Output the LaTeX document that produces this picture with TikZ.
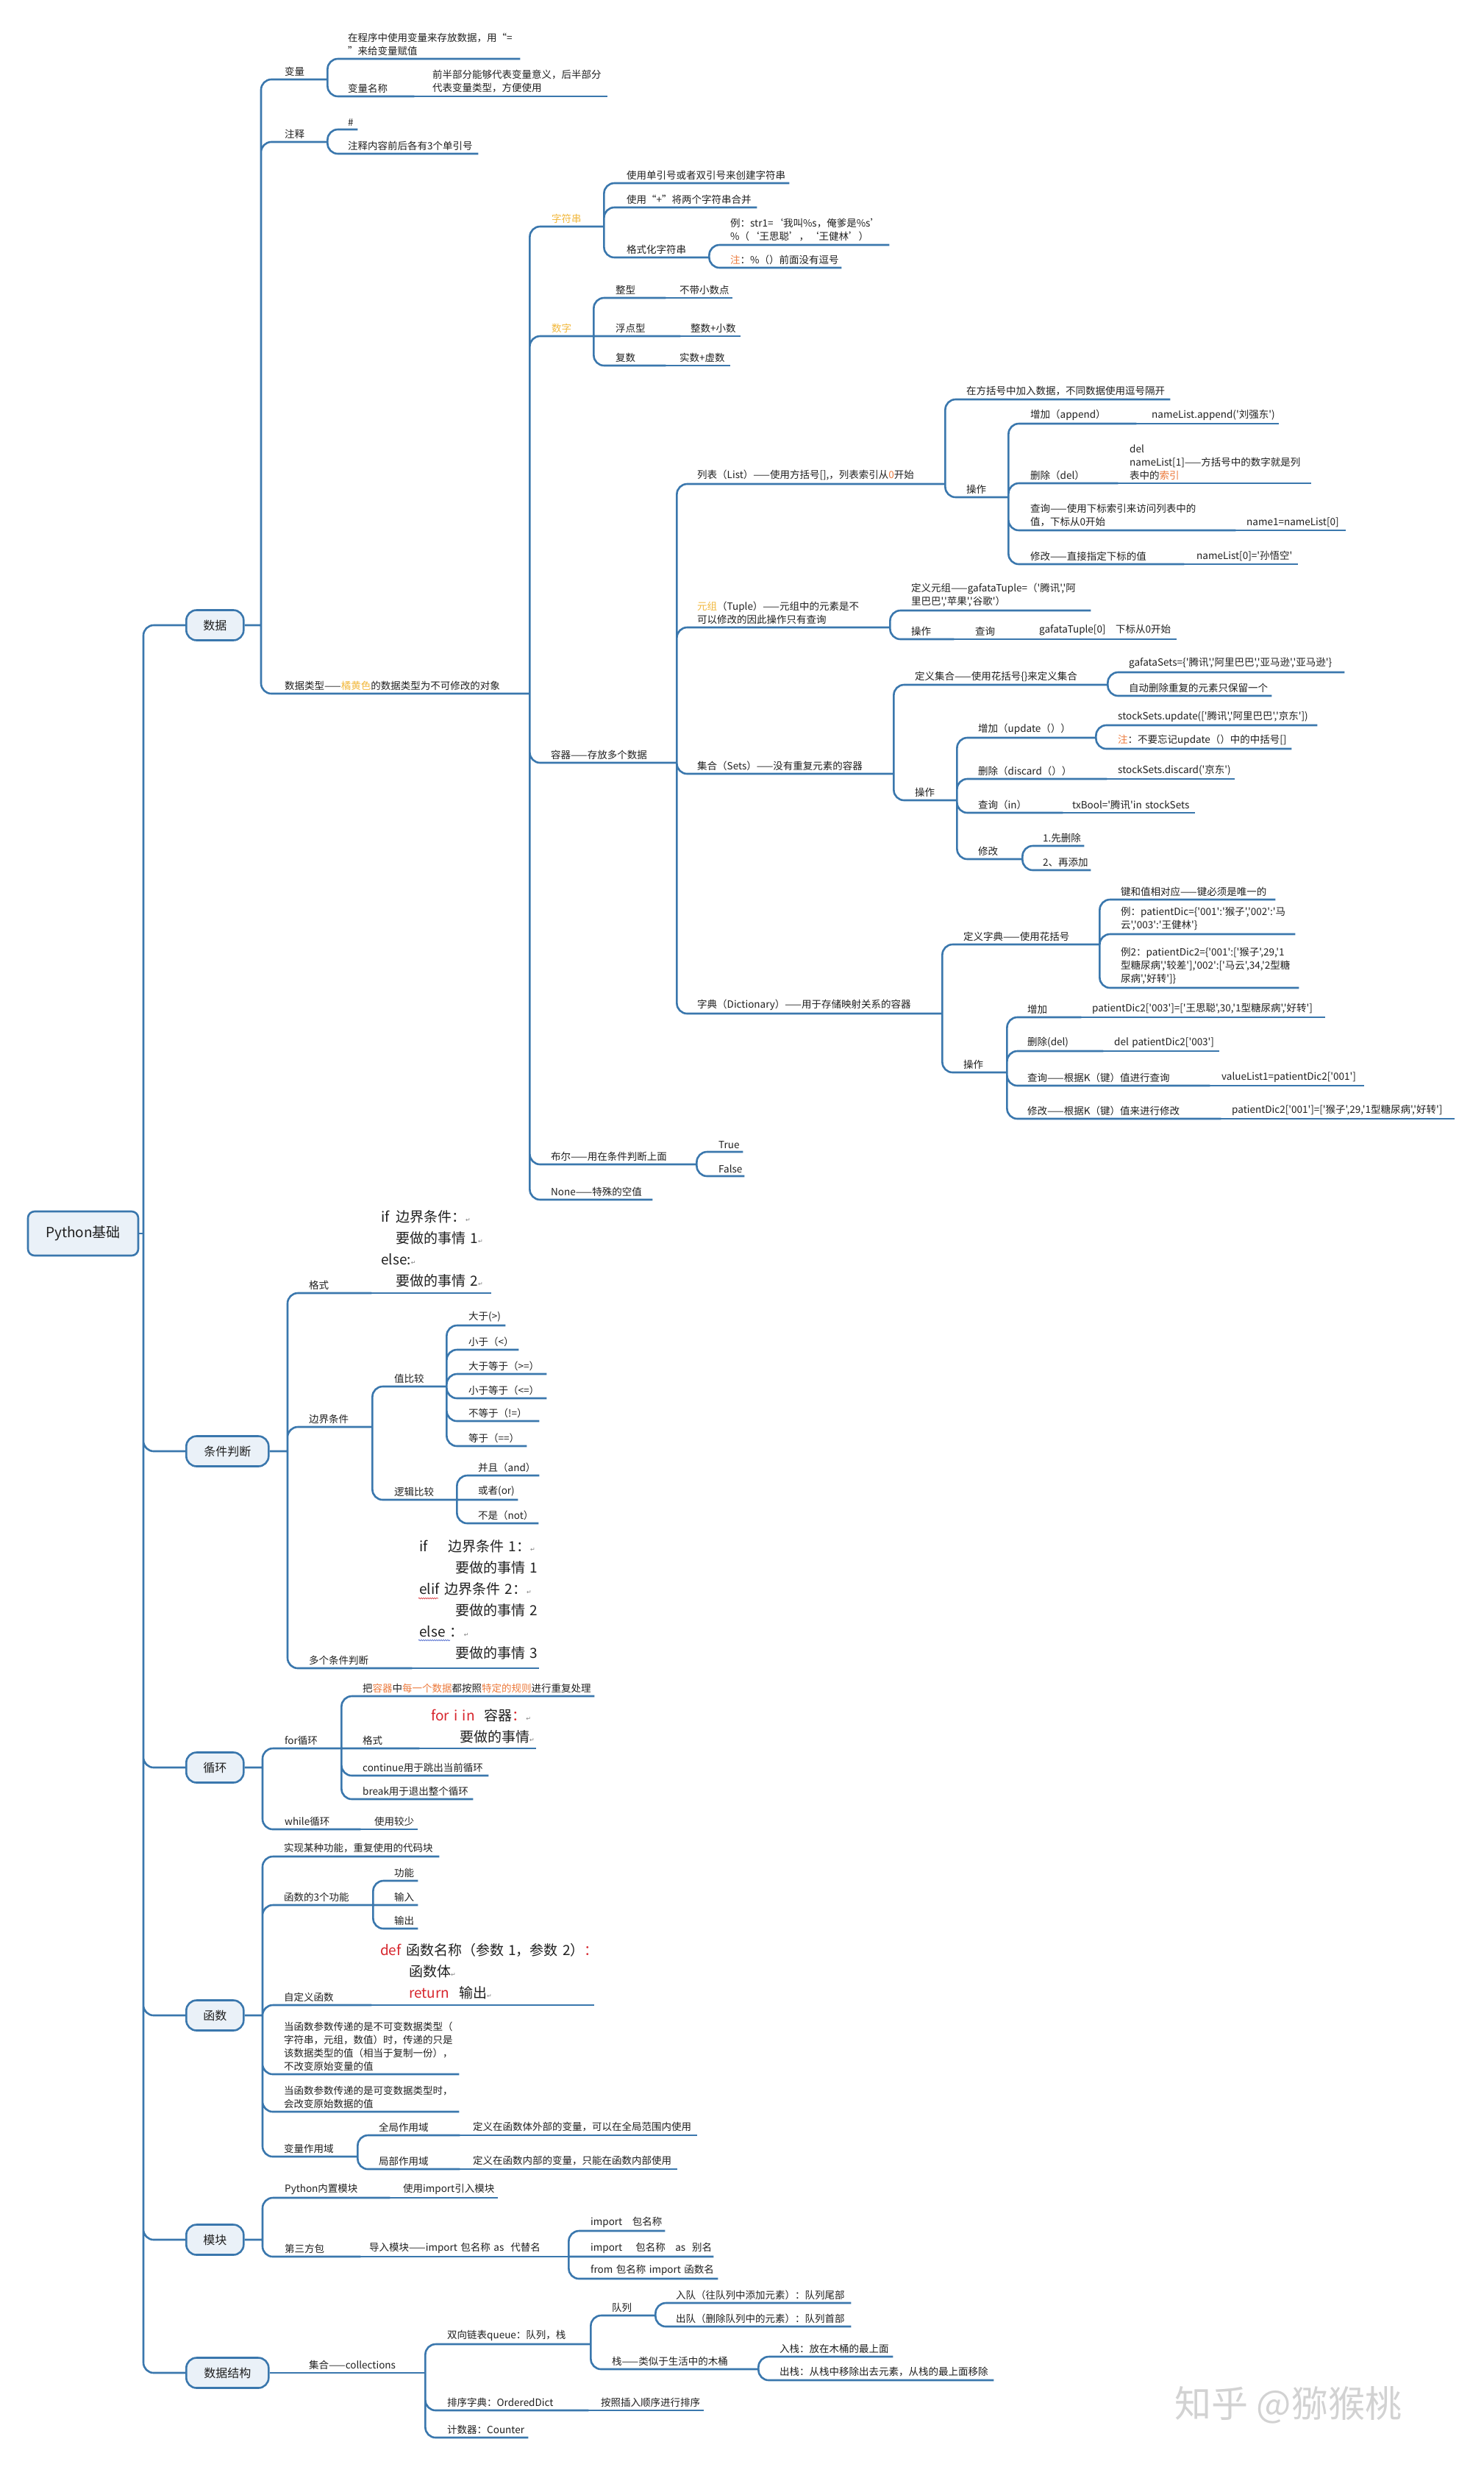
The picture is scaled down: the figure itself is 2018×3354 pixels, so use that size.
\documentclass[tikz,border=0pt]{standalone}
\usepackage{fontspec}
\newfontfamily\cjk{Noto Sans CJK SC}
\newfontfamily\dvfont{DejaVu Sans}
\usetikzlibrary{decorations.pathmorphing}

\definecolor{linecol}{HTML}{3A77AD}
\definecolor{boxfill}{HTML}{EAF1F8}
\definecolor{gold}{HTML}{F2B83C}
\definecolor{orng}{HTML}{EC7A3C}
\definecolor{codered}{HTML}{D7262D}
\definecolor{wavyblue}{HTML}{3C5AC8}
\definecolor{txt}{HTML}{202020}

\newcommand{\topicfont}{\cjk\fontsize{13.5}{18}\selectfont\hyphenpenalty=10000\exhyphenpenalty=10000\relax}
\newcommand{\codefont}{\cjk\fontsize{19}{29}\selectfont}
\newcommand{\catfont}{\cjk\fontsize{16}{20}\selectfont}
\newcommand{\retmark}{{\dvfont\fontsize{8}{8}\selectfont\color{gray}↵}}

\tikzstyle{branch} = [linecol, line width=2.6pt, rounded corners=14pt]
\tikzstyle{topic} = [anchor=south west, inner xsep=0pt, inner ysep=4.5pt, align=left, font=\topicfont, text=txt]
\tikzstyle{codetext} = [anchor=south west, inner xsep=0pt, inner ysep=7.5pt, align=left, font=\codefont, text=txt]
\tikzstyle{catbox} = [draw=linecol, line width=2.6pt, fill=boxfill, rounded corners=14pt, anchor=west, minimum height=41pt, font=\catfont, text=txt]
\tikzstyle{rootbox} = [draw=linecol, line width=2.6pt, fill=boxfill, rounded corners=9pt, minimum width=150pt, minimum height=60pt, font={\cjk\fontsize{19}{22}\selectfont}, text=txt]

\begin{document}
\begin{tikzpicture}[x=1pt, y=-1pt]

\fill [white] (0,0) rectangle (2018,3354);
\useasboundingbox (0,0) rectangle (2018,3354);

% Root and main branches
\node [rootbox] (root) at (113,1677) {Python基础};
\coordinate (hub) at (195,1677);
\node [catbox, minimum width=78pt] (data) at (252,850) {数据};
\node [catbox, minimum width=112pt] (cond) at (252,1973) {条件判断};
\node [catbox, minimum width=78pt] (loop) at (252,2403) {循环};
\node [catbox, minimum width=78pt] (func) at (252,2740) {函数};
\node [catbox, minimum width=78pt] (modu) at (252,3045) {模块};
\node [catbox, minimum width=112pt] (dstr) at (252,3226) {数据结构};
\draw [branch] (root.east) -- (hub);
\draw [branch] (hub) |- (data.west) (hub) |- (cond.west) (hub) |- (loop.west)
  (hub) |- (func.west) (hub) |- (modu.west) (hub) |- (dstr.west);

% Data: variables, comments
\coordinate (dataT) at (355,850);
\node [topic, text width=58pt] (var) at (387,108) {变量};
\node [topic, text width=234pt] (var1) at (473,80) {在程序中使用变量来存放数据，用“=\\”来给变量赋值};
\node [topic, text width=90pt] (vname) at (473,131) {变量名称};
\node [topic, text width=238pt] (vname1) at (588,131) {前半部分能够代表变量意义，后半部分\\代表变量类型，方便使用};
\node [topic, text width=58pt] (note) at (387,193) {注释};
\node [topic, text width=13pt] (note1) at (473,176) {\#};
\node [topic, text width=177pt] (note2) at (473,209) {注释内容前后各有3个单引号};
\node [topic, text width=333pt] (dtype) at (387,943) {数据类型——\textcolor{gold}{橘黄色}的数据类型为不可修改的对象};
\draw [branch] (data.east) -- (dataT) (dataT) |- (var.south east) (dataT) |- (note.south east) (dataT) |- (dtype.south east);
\draw [branch] (var.south east) |- (var1.south east) (var.south east) |- (vname.south east);
\draw [branch] (vname.south east) -- (vname1.south east);
\draw [branch] (note.south east) |- (note1.south east) (note.south east) |- (note2.south east);

% Data: strings, numbers
\node [topic, text width=71pt] (str) at (750,308) {\textcolor{gold}{字符串}};
\node [topic, text width=221pt] (str1) at (852,249) {使用单引号或者双引号来创建字符串};
\node [topic, text width=177pt] (str2) at (852,282) {使用“+”将两个字符串合并};
\node [topic, text width=112pt] (str3) at (852,350) {格式化字符串};
\node [topic, text width=216pt] (str31) at (993,333) {例：str1=‘我叫\%s，俺爹是\%s’\\\%（‘王思聪’，‘王健林’）};
\node [topic, text width=151pt] (str32) at (993,364) {\textcolor{orng}{注}：\%（）前面没有逗号};
\node [topic, text width=57pt] (num) at (750,457) {\textcolor{gold}{数字}};
\node [topic, text width=68pt] (int) at (837,405) {整型};
\node [topic, text width=72pt] (int1) at (924,405) {不带小数点};
\node [topic, text width=88pt] (flt) at (837,457) {浮点型};
\node [topic, text width=68pt] (flt1) at (939,457) {整数+小数};
\node [topic, text width=68pt] (cpx) at (837,497) {复数};
\node [topic, text width=69pt] (cpx1) at (924,497) {实数+虚数};
\node [topic, text width=171pt] (cont) at (749,1037) {容器——存放多个数据};
\node [topic, text width=198pt] (bool) at (749,1583) {布尔——用在条件判断上面};
\node [topic, text width=33pt] (btrue) at (977,1566) {True};
\node [topic, text width=35pt] (bfalse) at (977,1599) {False};
\node [topic, text width=138pt] (none) at (749,1631) {None——特殊的空值};
\draw [branch] (dtype.south east) |- (str.south east) (dtype.south east) |- (num.south east) (dtype.south east) |- (cont.south east)
  (dtype.south east) |- (bool.south east) (dtype.south east) |- (none.south east);
\draw [branch] (str.south east) |- (str1.south east) (str.south east) |- (str2.south east) (str.south east) |- (str3.south east);
\draw [branch] (str3.south east) |- (str31.south east) (str3.south east) |- (str32.south east);
\draw [branch] (num.south east) |- (int.south east) (num.south east) -- (flt.south east) (num.south east) |- (cpx.south east);
\draw [branch] (int.south east) -- (int1.south east) (flt.south east) -- (flt1.south east) (cpx.south east) -- (cpx1.south east);
\draw [branch] (bool.south east) |- (btrue.south east) (bool.south east) |- (bfalse.south east);

% Container: list
\node [topic, text width=337pt] (list) at (948,658) {列表（List）——使用方括号[],，列表索引从\textcolor{orng}{0}开始};
\node [topic, text width=277pt] (list1) at (1314,543) {在方括号中加入数据，不同数据使用逗号隔开};
\node [topic, text width=57pt] (lop) at (1314,676) {操作};
\node [topic, text width=144pt] (ladd) at (1401,576) {增加（append）};
\node [topic, text width=173pt] (ladd1) at (1566,576) {nameList.append('刘强东')};
\node [topic, text width=119pt] (ldel) at (1401,657) {删除（del）};
\node [topic, text width=247pt] (ldel1) at (1536,657) {del\\nameList[1]——方括号中的数字就是列\\表中的\textcolor{orng}{索引}};
\node [topic, text width=279pt] (lget) at (1401,721) {查询——使用下标索引来访问列表中的\\值，下标从0开始};
\node [topic, text width=135pt] (lget1) at (1695,721) {name1=nameList[0]};
\node [topic, text width=209pt] (lset) at (1401,767) {修改——直接指定下标的值};
\node [topic, text width=138pt] (lset1) at (1627,767) {nameList[0]='孙悟空'};
\draw [branch] (list.south east) |- (list1.south east) (list.south east) |- (lop.south east);
\draw [branch] (lop.south east) |- (ladd.south east) (lop.south east) |- (ldel.south east) (lop.south east) |- (lget.south east) (lop.south east) |- (lset.south east);
\draw [branch] (ladd.south east) -- (ladd1.south east) (ldel.south east) -- (ldel1.south east) (lget.south east) -- (lget1.south east) (lset.south east) -- (lset1.south east);

% Container: tuple
\node [topic, text width=262pt] (tup) at (948,853) {\textcolor{gold}{元组}（Tuple）——元组中的元素是不\\可以修改的因此操作只有查询};
\node [topic, text width=244pt] (tup1) at (1239,830) {定义元组——gafataTuple=（'腾讯','阿\\里巴巴','苹果','谷歌'）};
\node [topic, text width=58pt] (tupop) at (1239,869) {操作};
\node [topic, text width=74pt] (tupget) at (1326,869) {查询};
\node [topic, text width=187pt] (tupget1) at (1413,869) {gafataTuple[0]~~~下标从0开始};
\draw [branch] (tup.south east) |- (tup1.south east) (tup.south east) |- (tupop.south east);
\draw [branch] (tupop.south east) -- (tupget.south east) (tupget.south east) -- (tupget1.south east);

% Container: set
\node [topic, text width=267pt] (set) at (948,1052) {集合（Sets）——没有重复元素的容器};
\node [topic, text width=262pt] (setdef) at (1244,931) {定义集合——使用花括号\{\}来定义集合};
\node [topic, text width=293pt] (setdef1) at (1535,914) {gafataSets=\{'腾讯','阿里巴巴','亚马逊','亚马逊'\}};
\node [topic, text width=194pt] (setdef2) at (1535,946) {自动删除重复的元素只保留一个};
\node [topic, text width=57pt] (setop) at (1244,1088) {操作};
\node [topic, text width=160pt] (setadd) at (1330,1003) {增加（update（））};
\node [topic, text width=271pt] (setadd1) at (1520,986) {stockSets.update(['腾讯','阿里巴巴','京东'])};
\node [topic, text width=236pt] (setadd2) at (1520,1018) {\textcolor{orng}{注}：不要忘记update（）中的中括号[]};
\node [topic, text width=175pt] (setdel) at (1330,1059) {删除（discard（））};
\node [topic, text width=159pt] (setdel1) at (1520,1059) {stockSets.discard('京东')};
\node [topic, text width=115pt] (setget) at (1330,1105) {查询（in）};
\node [topic, text width=167pt] (setget1) at (1458,1105) {txBool='腾讯'in~stockSets};
\node [topic, text width=60pt] (setmod) at (1330,1168) {修改};
\node [topic, text width=56pt] (setmod1) at (1418,1150) {1.先删除};
\node [topic, text width=65pt] (setmod2) at (1418,1183) {2、再添加};
\draw [branch] (set.south east) |- (setdef.south east) (set.south east) |- (setop.south east);
\draw [branch] (setdef.south east) |- (setdef1.south east) (setdef.south east) |- (setdef2.south east);
\draw [branch] (setop.south east) |- (setadd.south east) (setop.south east) |- (setdel.south east) (setop.south east) |- (setget.south east) (setop.south east) |- (setmod.south east);
\draw [branch] (setadd.south east) |- (setadd1.south east) (setadd.south east) |- (setadd2.south east);
\draw [branch] (setdel.south east) -- (setdel1.south east) (setget.south east) -- (setget1.south east);
\draw [branch] (setmod.south east) |- (setmod1.south east) (setmod.south east) |- (setmod2.south east);

% Container: dictionary
\node [topic, text width=333pt] (dict) at (948,1378) {字典（Dictionary）——用于存储映射关系的容器};
\node [topic, text width=185pt] (ddef) at (1310,1284) {定义字典——使用花括号};
\node [topic, text width=210pt] (ddef1) at (1524,1223) {键和值相对应——键必须是唯一的};
\node [topic, text width=237pt] (ddef2) at (1524,1270) {例：patientDic=\{'001':'猴子','002':'马\\云','003':'王健林'\}};
\node [topic, text width=242pt] (ddef3) at (1524,1343) {例2：patientDic2=\{'001':['猴子',29,'1\\型糖尿病','较差'],'002':['马云',34,'2型糖\\尿病','好转']\}};
\node [topic, text width=59pt] (dop) at (1310,1458) {操作};
\node [topic, text width=73pt] (dadd) at (1397,1383) {增加};
\node [topic, text width=317pt] (dadd1) at (1485,1383) {patientDic2['003']=['王思聪',30,'1型糖尿病','好转']};
\node [topic, text width=103pt] (ddel) at (1397,1429) {删除(del)};
\node [topic, text width=143pt] (ddel1) at (1515,1429) {del~patientDic2['003']};
\node [topic, text width=248pt] (dget) at (1397,1476) {查询——根据K（键）值进行查询};
\node [topic, text width=194pt] (dget1) at (1661,1476) {valueList1=patientDic2['001']};
\node [topic, text width=263pt] (dset) at (1397,1521) {修改——根据K（键）值来进行修改};
\node [topic, text width=303pt] (dset1) at (1675,1521) {patientDic2['001']=['猴子',29,'1型糖尿病','好转']};
\draw [branch] (dict.south east) |- (ddef.south east) (dict.south east) |- (dop.south east);
\draw [branch] (ddef.south east) |- (ddef1.south east) (ddef.south east) |- (ddef2.south east) (ddef.south east) |- (ddef3.south east);
\draw [branch] (dop.south east) |- (dadd.south east) (dop.south east) |- (ddel.south east) (dop.south east) |- (dget.south east) (dop.south east) |- (dset.south east);
\draw [branch] (dadd.south east) -- (dadd1.south east) (ddel.south east) -- (ddel1.south east) (dget.south east) -- (dget1.south east) (dset.south east) -- (dset1.south east);
\draw [branch] (cont.south east) |- (list.south east) (cont.south east) |- (tup.south east) (cont.south east) |- (set.south east) (cont.south east) |- (dict.south east);

% Conditions
\coordinate (condT) at (391,1973);
\node [topic, text width=85pt] (cfmt) at (420,1758) {格式};
\node [codetext, text width=150pt] (cfmtcode) at (518,1758) {\makebox[20pt][l]{if}边界条件：\retmark\\\hspace*{20pt}要做的事情~1\retmark\\else:\retmark\\\hspace*{20pt}要做的事情~2\retmark};
\node [topic, text width=86pt] (bound) at (420,1940) {边界条件};
\node [topic, text width=71pt] (valcmp) at (536,1885) {值比较};
\node [topic, text width=50pt] (gt) at (637,1802) {大于(>)};
\node [topic, text width=68pt] (lt) at (637,1835) {小于（<）};
\node [topic, text width=106pt] (ge) at (637,1868) {大于等于（>=）};
\node [topic, text width=106pt] (le) at (637,1901) {小于等于（<=）};
\node [topic, text width=96pt] (ne) at (637,1932) {不等于（!=）};
\node [topic, text width=79pt] (eq) at (637,1966) {等于（==）};
\node [topic, text width=85pt] (logcmp) at (536,2039) {逻辑比较};
\node [topic, text width=83pt] (land) at (650,2006) {并且（and）};
\node [topic, text width=54pt] (lor) at (650,2039) {或者(or)};
\node [topic, text width=82pt] (lnot) at (650,2071) {不是（not）};
\node [topic, text width=140pt] (multi) at (420,2268) {多个条件判断};
\node [codetext, text width=163pt, inner ysep=11.5pt] (multicode) at (570,2268) {\makebox[39pt][l]{if}边界条件~1：\retmark\\\hspace*{49pt}要做的事情~1\\\makebox[34pt][l]{elif}边界条件~2：\retmark\\\hspace*{49pt}要做的事情~2\\else~：\retmark\\\hspace*{49pt}要做的事情~3};
\draw [branch] (cond.east) -- (condT) (condT) |- (cfmt.south east) (condT) |- (bound.south east) (condT) |- (multi.south east);
\draw [branch] (cfmt.south east) -- (cfmtcode.south east) (multi.south east) -- (multicode.south east);
\draw [branch] (bound.south east) |- (valcmp.south east) (bound.south east) |- (logcmp.south east);
\draw [branch] (valcmp.south east) |- (gt.south east) (valcmp.south east) |- (lt.south east) (valcmp.south east) |- (ge.south east)
  (valcmp.south east) |- (le.south east) (valcmp.south east) |- (ne.south east) (valcmp.south east) |- (eq.south east);
\draw [branch] (logcmp.south east) |- (land.south east) (logcmp.south east) -- (lor.south east) (logcmp.south east) |- (lnot.south east);
\draw [codered, line width=0.6pt, decorate, decoration={snake, amplitude=0.8pt, segment length=3pt}] (569,2173) -- (596,2173);
\draw [wavyblue, line width=0.6pt, decorate, decoration={snake, amplitude=0.8pt, segment length=3pt}] (569,2230) -- (612,2230);

% Loops
\coordinate (loopT) at (357,2403);
\node [topic, text width=77pt] (forl) at (387,2377) {for循环};
\node [topic, text width=315pt] (for1) at (493,2306) {把\textcolor{orng}{容器}中\textcolor{orng}{每一个数据}都按照\textcolor{orng}{特定的规则}进行重复处理};
\node [topic, text width=77pt] (forfmt) at (493,2377) {格式};
\node [codetext, text width=143pt, inner ysep=6.5pt] (forcode) at (586,2377) {\textcolor{codered}{for~i~in}~~容器\textcolor{codered}{：}\retmark\\\hspace*{39pt}要做的事情\retmark};
\node [topic, text width=171pt] (forcont) at (493,2414) {continue用于跳出当前循环};
\node [topic, text width=150pt] (forbrk) at (493,2446) {break用于退出整个循环};
\node [topic, text width=103pt] (whl) at (387,2487) {while循环};
\node [topic, text width=59pt] (whl1) at (509,2487) {使用较少};
\draw [branch] (loop.east) -- (loopT) (loopT) |- (forl.south east) (loopT) |- (whl.south east);
\draw [branch] (forl.south east) |- (for1.south east) (forl.south east) -- (forfmt.south east) (forl.south east) |- (forcont.south east) (forl.south east) |- (forbrk.south east);
\draw [branch] (forfmt.south east) -- (forcode.south east) (whl.south east) -- (whl1.south east);

% Functions
\coordinate (funcT) at (357,2740);
\node [topic, text width=211pt] (fn1) at (386,2524) {实现某种功能，重复使用的代码块};
\node [topic, text width=121pt] (fn3) at (386,2590) {函数的3个功能};
\node [topic, text width=32pt] (fnf1) at (536,2557) {功能};
\node [topic, text width=32pt] (fnf2) at (536,2590) {输入};
\node [topic, text width=32pt] (fnf3) at (536,2622) {输出};
\node [topic, text width=119pt] (fndef) at (386,2726) {自定义函数};
\node [codetext, text width=291pt] (fncode) at (517,2726) {\textcolor{codered}{def}~函数名称（参数~1，参数~2）\textcolor{codered}{：}\\\hspace*{39pt}函数体\retmark\\\hspace*{39pt}\textcolor{codered}{return}~~输出\retmark};
\node [topic, text width=238pt] (fnimm) at (386,2820) {当函数参数传递的是不可变数据类型（\\字符串，元组，数值）时，传递的只是\\该数据类型的值（相当于复制一份），\\不改变原始变量的值};
\node [topic, text width=238pt] (fnmut) at (386,2871) {当函数参数传递的是可变数据类型时，\\会改变原始数据的值};
\node [topic, text width=100pt] (fnscope) at (386,2932) {变量作用域};
\node [topic, text width=110pt] (glob) at (515,2903) {全局作用域};
\node [topic, text width=305pt] (glob1) at (643,2903) {定义在函数体外部的变量，可以在全局范围内使用};
\node [topic, text width=110pt] (loc) at (515,2949) {局部作用域};
\node [topic, text width=278pt] (loc1) at (643,2949) {定义在函数内部的变量，只能在函数内部使用};
\draw [branch] (func.east) -- (funcT) (funcT) |- (fn1.south east) (funcT) |- (fn3.south east) (funcT) |- (fndef.south east)
  (funcT) |- (fnimm.south east) (funcT) |- (fnmut.south east) (funcT) |- (fnscope.south east);
\draw [branch] (fn3.south east) |- (fnf1.south east) (fn3.south east) -- (fnf2.south east) (fn3.south east) |- (fnf3.south east);
\draw [branch] (fndef.south east) -- (fncode.south east);
\draw [branch] (fnscope.south east) |- (glob.south east) (fnscope.south east) |- (loc.south east);
\draw [branch] (glob.south east) -- (glob1.south east) (loc.south east) -- (loc1.south east);

% Modules
\coordinate (modT) at (357,3045);
\node [topic, text width=143pt] (mbuilt) at (387,2988) {Python内置模块};
\node [topic, text width=129pt] (mbuilt1) at (548,2988) {使用import引入模块};
\node [topic, text width=103pt] (m3rd) at (387,3068) {第三方包};
\node [topic, text width=271pt] (m3rd1) at (502,3068) {导入模块——import~包名称~as~~代替名};
\node [topic, text width=101pt] (imp1) at (803,3033) {import~~~包名称};
\node [topic, text width=167pt] (imp2) at (803,3068) {import~~~~包名称~~~as~~别名};
\node [topic, text width=173pt] (imp3) at (803,3098) {from~包名称~import~函数名};
\draw [branch] (modu.east) -- (modT) (modT) |- (mbuilt.south east) (modT) |- (m3rd.south east);
\draw [branch] (mbuilt.south east) -- (mbuilt1.south east) (m3rd.south east) -- (m3rd1.south east);
\draw [branch] (m3rd1.south east) |- (imp1.south east) (m3rd1.south east) -- (imp2.south east) (m3rd1.south east) |- (imp3.south east);

% Data structures
\node [topic, text width=158pt] (coll) at (420,3226) {集合——collections};
\node [topic, text width=195pt] (dq) at (608,3187) {双向链表queue：队列，栈};
\node [topic, text width=59pt] (queue) at (832,3148) {队列};
\node [topic, text width=238pt] (enq) at (919,3131) {入队（往队列中添加元素）：队列尾部};
\node [topic, text width=238pt] (deq) at (919,3163) {出队（删除队列中的元素）：队列首部};
\node [topic, text width=199pt] (stack) at (832,3221) {栈——类似于生活中的木桶};
\node [topic, text width=154pt] (push) at (1060,3204) {入栈：放在木桶的最上面};
\node [topic, text width=291pt] (pop) at (1060,3236) {出栈：从栈中移除出去元素，从栈的最上面移除};
\node [topic, text width=192pt] (odict) at (608,3277) {排序字典：OrderedDict};
\node [topic, text width=140pt] (odict1) at (817,3277) {按照插入顺序进行排序};
\node [topic, text width=110pt] (cnt) at (608,3314) {计数器：Counter};
\draw [branch] (dstr.east) -- (coll.south east);
\draw [branch] (coll.south east) |- (dq.south east) (coll.south east) |- (odict.south east) (coll.south east) |- (cnt.south east);
\draw [branch] (dq.south east) |- (queue.south east) (dq.south east) |- (stack.south east);
\draw [branch] (queue.south east) |- (enq.south east) (queue.south east) |- (deq.south east);
\draw [branch] (stack.south east) |- (push.south east) (stack.south east) |- (pop.south east);
\draw [branch] (odict.south east) -- (odict1.south east);

% Watermark
\node [anchor=west, font={\cjk\fontsize{50}{50}\selectfont}, text=gray!35] (mark) at (1594,3270) {知乎 @猕猴桃};

\end{tikzpicture}
\end{document}
